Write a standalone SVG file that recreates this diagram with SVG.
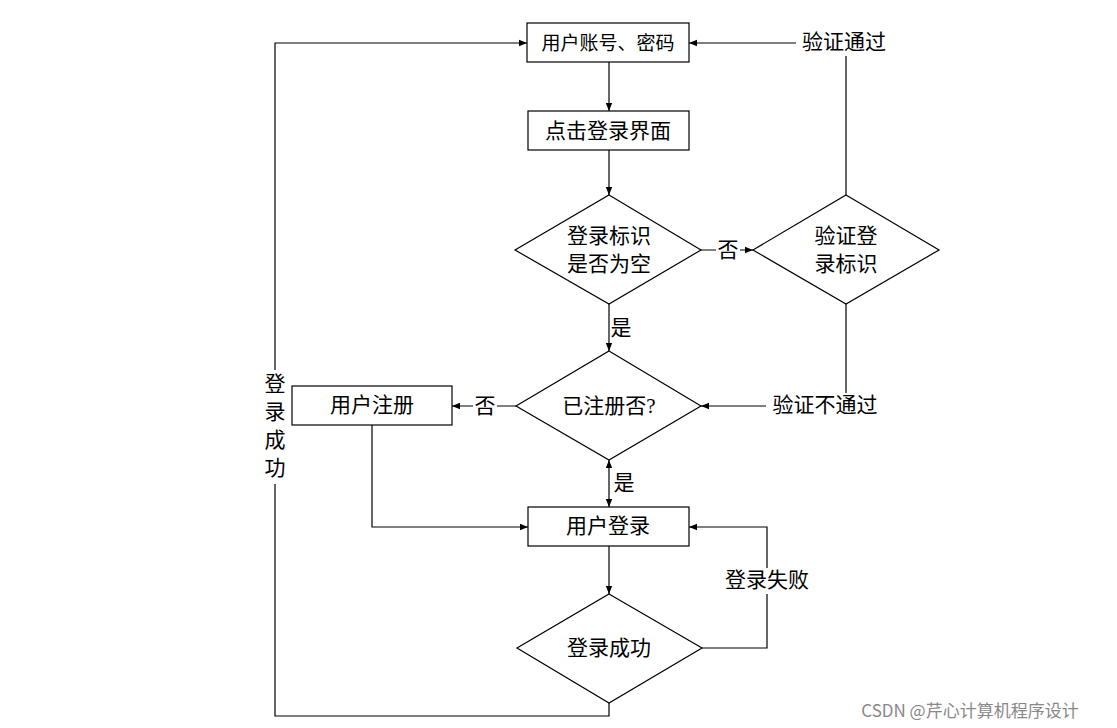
<svg xmlns="http://www.w3.org/2000/svg" width="1117" height="728" viewBox="0 0 1117 728">
<defs><marker id="a" viewBox="0 0 10 10" refX="10" refY="5" markerWidth="7" markerHeight="7" orient="auto-start-reverse"><path d="M0,1 L10,5 L0,9 z" fill="#000"/></marker></defs>
<style>
.n{fill:#fff;stroke:#000;stroke-width:1.2}
.c{fill:none;stroke:#000;stroke-width:1.2}
text{font-family:"Liberation Serif","Noto Sans CJK SC",serif;font-size:21px;text-anchor:middle;dominant-baseline:central;fill:#000}
.bg{fill:#fff}
</style>
<rect width="1117" height="728" fill="#fff"/>
<g id="connectors">
<path class="c" d="M609,62V111" marker-end="url(#a)"/>
<path class="c" d="M609,150V195" marker-end="url(#a)"/>
<path class="c" d="M609,304V351" marker-end="url(#a)"/>
<path class="c" d="M701,250H753" marker-end="url(#a)"/>
<path class="c" d="M846,195V43H689" marker-end="url(#a)"/>
<path class="c" d="M846,304V406H701" marker-end="url(#a)"/>
<path class="c" d="M516,406H452" marker-end="url(#a)"/>
<path class="c" d="M609,460V507" marker-start="url(#a)" marker-end="url(#a)"/>
<path class="c" d="M372,425V527H528" marker-end="url(#a)"/>
<path class="c" d="M609,546V594" marker-end="url(#a)"/>
<path class="c" d="M702,648H767V527H689" marker-end="url(#a)"/>
<path class="c" d="M609,703V716H275V43H527" marker-end="url(#a)"/>
<rect class="bg" x="796" y="30" width="96" height="26"/><text x="844" y="42">验证通过</text>
<rect class="bg" x="716" y="238" width="24" height="24"/><text x="728" y="250">否</text>
<text x="621" y="328">是</text>
<rect class="bg" x="766" y="393" width="118" height="26"/><text x="825" y="405">验证不通过</text>
<rect class="bg" x="473" y="394" width="24" height="24"/><text x="485" y="406">否</text>
<text x="624" y="483">是</text>
<rect class="bg" x="720" y="568" width="95" height="26"/><text x="767" y="580">登录失败</text>
<rect class="bg" x="262" y="370" width="26" height="114"/>
<text x="275" y="384">登</text><text x="275" y="412">录</text><text x="275" y="440">成</text><text x="275" y="468">功</text>
</g>
<g id="n1"><rect class="n" x="527" y="23" width="162" height="39"/><text x="608" y="43" style="font-size:19px">用户账号、密码</text></g>
<g id="n2"><rect class="n" x="528" y="111" width="161" height="39"/><text x="608" y="131">点击登录界面</text></g>
<g id="n3"><path class="n" d="M609,195L701,250L609,304L515,250Z"/><text x="609" y="236">登录标识</text><text x="609" y="264">是否为空</text></g>
<g id="n4"><path class="n" d="M846,195L939,250L846,304L753,250Z"/><text x="846" y="236">验证登</text><text x="846" y="264">录标识</text></g>
<g id="n5"><path class="n" d="M609,351L701,406L609,460L516,406Z"/><text x="609" y="406">已注册否?</text></g>
<g id="n6"><rect class="n" x="292" y="386" width="160" height="39"/><text x="372" y="405">用户注册</text></g>
<g id="n7"><rect class="n" x="528" y="507" width="161" height="39"/><text x="608" y="526">用户登录</text></g>
<g id="n8"><path class="n" d="M609,594L702,648L609,703L517,648Z"/><text x="609" y="648">登录成功</text></g>
<text x="970" y="709" style="font-family:'Noto Sans CJK SC',sans-serif;font-size:17px;fill:#888">CSDN @芹心计算机程序设计</text>
</svg>
